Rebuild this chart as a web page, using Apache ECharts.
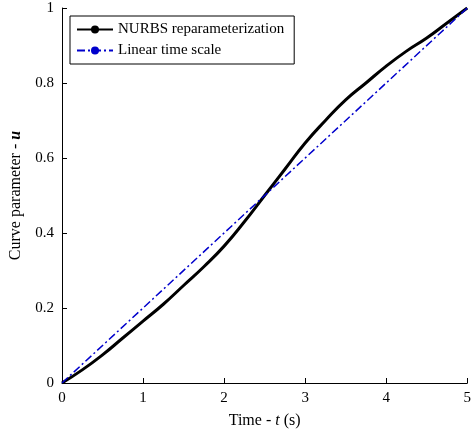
<!DOCTYPE html>
<html><head><meta charset="utf-8">
<script src="https://cdn.jsdelivr.net/npm/echarts@6/dist/echarts.min.js"></script>
<style>html,body{margin:0;background:#fff}#c{width:474px;height:435px}</style>
</head><body><div id="c"></div>
<script>
// NURBS curve samples
const tValues = [0, 0.25, 0.5, 0.75, 1, 1.25, 1.5, 1.75, 2, 2.25, 2.5, 2.75, 3, 3.25, 3.5, 3.75, 4, 4.25, 4.5, 4.75, 5];
const nurbsU = [0, 0.035, 0.075, 0.12, 0.165, 0.21, 0.26, 0.31, 0.365, 0.43, 0.5, 0.57, 0.64, 0.7, 0.755, 0.8, 0.845, 0.885, 0.92, 0.96, 1];
const linearT = [0, 5];
const linearU = [0, 1];
const xTicks = [0, 1, 2, 3, 4, 5];
const yTicks = [0, 0.2, 0.4, 0.6, 0.8, 1];

const font = 'Liberation Serif';
const chart = echarts.init(document.getElementById('c'));
chart.setOption({
    animation: false,
    textStyle: { fontFamily: font },
    grid: { left: 61, right: 6, top: 8, bottom: 52 },
    legend: {
        left: 70, top: 16, orient: 'vertical', itemGap: 6,
        borderColor: '#000', borderWidth: 1, padding: [6, 10, 6, 6],
        backgroundColor: '#fff', itemWidth: 36, itemHeight: 10,
        textStyle: { fontFamily: font, fontSize: 15, color: '#000' },
        data: ['NURBS reparameterization', 'Linear time scale']
    },
    xAxis: {
        type: 'value', min: 0, max: 5, interval: 1,
        name: 'Time - {i|t} (s)', nameLocation: 'middle', nameGap: 30,
        nameTextStyle: { fontSize: 16, color: '#000', rich: { i: { fontStyle: 'italic', fontSize: 16, fontFamily: font } } },
        axisLine: { lineStyle: { color: '#000' } },
        axisTick: { inside: true, lineStyle: { color: '#000' } },
        axisLabel: { color: '#000', fontSize: 15, formatter: v => xTicks.includes(v) ? String(v) : '' },
        splitLine: { show: false }
    },
    yAxis: {
        type: 'value', min: 0, max: 1, interval: 0.2,
        name: 'Curve parameter - {i|u}', nameLocation: 'middle', nameGap: 38,
        nameTextStyle: { fontSize: 16, color: '#000', rich: { i: { fontStyle: 'italic', fontWeight: 'bold', fontSize: 16, fontFamily: font } } },
        axisLine: { lineStyle: { color: '#000' } },
        axisTick: { inside: true, lineStyle: { color: '#000' } },
        axisLabel: { color: '#000', fontSize: 15, formatter: v => { const t = yTicks.find(y => Math.abs(y - v) < 1e-9); return t === undefined ? '' : String(t); } },
        splitLine: { show: false }
    },
    series: [
        {
            name: 'NURBS reparameterization', type: 'line', smooth: true, symbol: 'none',
            lineStyle: { color: '#000', width: 3 }, itemStyle: { color: '#000' },
            data: tValues.map((t, i) => [t, nurbsU[i]])
        },
        {
            name: 'Linear time scale', type: 'line', symbol: 'none',
            lineStyle: { color: '#0000cc', width: 1.5, type: [8, 3, 2, 3] }, itemStyle: { color: '#0000cc' },
            data: linearT.map((t, i) => [t, linearU[i]])
        }
    ]
});
</script></body></html>
